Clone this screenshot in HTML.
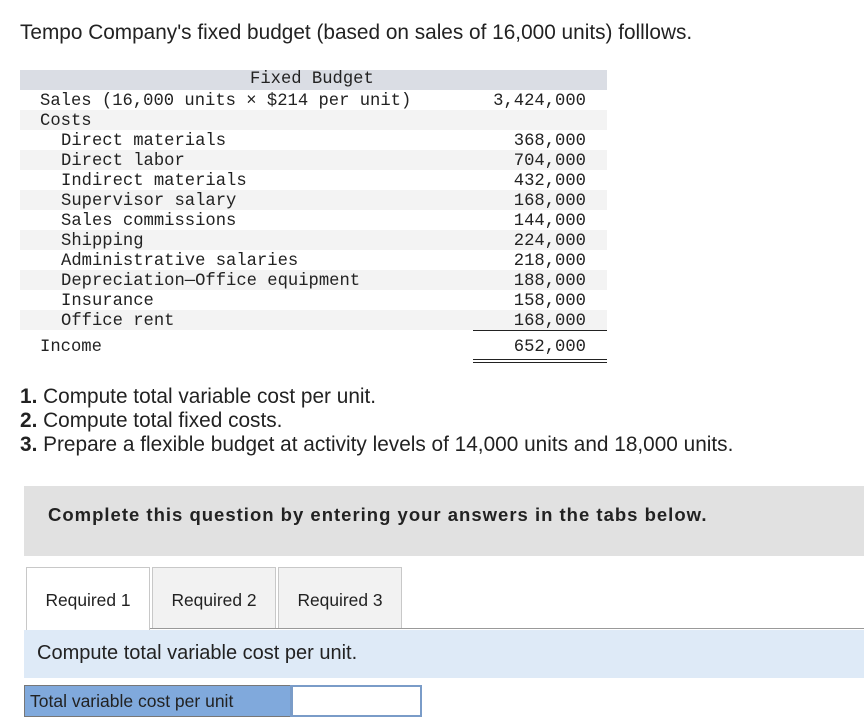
<!DOCTYPE html>
<html><head><meta charset="utf-8"><style>
body{margin:0;width:864px;height:728px;background:#fff;position:relative;overflow:hidden;font-family:"Liberation Sans",Arial,sans-serif;color:#222}
.a{position:absolute}
.mono{font-family:"Liberation Mono",monospace;font-size:17.2px;color:#222;white-space:pre}
.row{position:absolute;left:20px;width:587px;height:20px}
.row .l{position:absolute;top:2px}
.row .v{position:absolute;right:21px;top:2px}
.g{background:#f3f3f3}
.q{font-size:20.8px;white-space:nowrap}
.tab{position:absolute;top:567px;width:122px;height:61px;border:1px solid #c8c8c8;border-bottom:none;background:#f2f2f2;font-size:17.4px;text-align:center;line-height:64px}
</style></head><body>
<div class="a q" style="left:20px;top:21px;">Tempo Company's fixed budget (based on sales of 16,000 units) folllows.</div>

<div class="a" style="left:0;top:0">
<div class="row mono" style="top:70px;background:#dadde4"><span class="l" style="left:230px;top:0">Fixed Budget</span></div>
<div class="row mono" style="top:90px"><span class="l" style="left:20px">Sales (16,000 units × $214 per unit)</span><span class="v">3,424,000</span></div>
<div class="row mono g" style="top:110px"><span class="l" style="left:20px">Costs</span></div>
<div class="row mono" style="top:130px"><span class="l" style="left:41px">Direct materials</span><span class="v">368,000</span></div>
<div class="row mono g" style="top:150px"><span class="l" style="left:41px">Direct labor</span><span class="v">704,000</span></div>
<div class="row mono" style="top:170px"><span class="l" style="left:41px">Indirect materials</span><span class="v">432,000</span></div>
<div class="row mono g" style="top:190px"><span class="l" style="left:41px">Supervisor salary</span><span class="v">168,000</span></div>
<div class="row mono" style="top:210px"><span class="l" style="left:41px">Sales commissions</span><span class="v">144,000</span></div>
<div class="row mono g" style="top:230px"><span class="l" style="left:41px">Shipping</span><span class="v">224,000</span></div>
<div class="row mono" style="top:250px"><span class="l" style="left:41px">Administrative salaries</span><span class="v">218,000</span></div>
<div class="row mono g" style="top:270px"><span class="l" style="left:41px">Depreciation—Office equipment</span><span class="v">188,000</span></div>
<div class="row mono" style="top:290px"><span class="l" style="left:41px">Insurance</span><span class="v">158,000</span></div>
<div class="row mono g" style="top:310px"><span class="l" style="left:41px">Office rent</span><span class="v">168,000</span></div>
<div class="a" style="left:473px;top:330px;width:134px;height:1px;background:#222"></div>
<div class="row mono" style="top:336px"><span class="l" style="left:20px">Income</span><span class="v">652,000</span></div>
<div class="a" style="left:473px;top:359px;width:134px;height:2px;border-top:1px solid #222;border-bottom:1px solid #222"></div>
</div>

<div class="a q" style="left:20px;top:385px"><b>1.</b> Compute total variable cost per unit.</div>
<div class="a q" style="left:20px;top:409px"><b>2.</b> Compute total fixed costs.</div>
<div class="a q" style="left:20px;top:433px"><b>3.</b> Prepare a flexible budget at activity levels of 14,000 units and 18,000 units.</div>

<div class="a" style="left:24px;top:486px;width:840px;height:70px;background:#e1e1e1"></div>
<div class="a" style="left:48px;top:504px;font-size:18.5px;letter-spacing:1px;font-weight:bold;color:#222;white-space:nowrap">Complete this question by entering your answers in the tabs below.</div>

<div class="tab" style="left:26px;background:#fff;height:63px">Required 1</div>
<div class="tab" style="left:152px">Required 2</div>
<div class="tab" style="left:278px">Required 3</div>
<div class="a" style="left:150px;top:628px;width:714px;height:1px;background:#999"></div>
<div class="a" style="left:24px;top:630px;width:840px;height:48px;background:#deeaf7"></div>
<div class="a" style="left:37px;top:642px;font-size:20px;white-space:nowrap">Compute total variable cost per unit.</div>
<div class="a" style="left:24px;top:685px;background:#80a9dc;border:1px solid #777;font-size:17.5px;line-height:30px;padding-left:5px;box-sizing:border-box;width:267px;height:32px;white-space:nowrap">Total variable cost per unit</div>
<div class="a" style="left:290px;top:685px;width:132px;height:32px;box-sizing:border-box;background:#fff;border:2px solid #7a9cc8;border-left-width:3px"></div>
</body></html>
